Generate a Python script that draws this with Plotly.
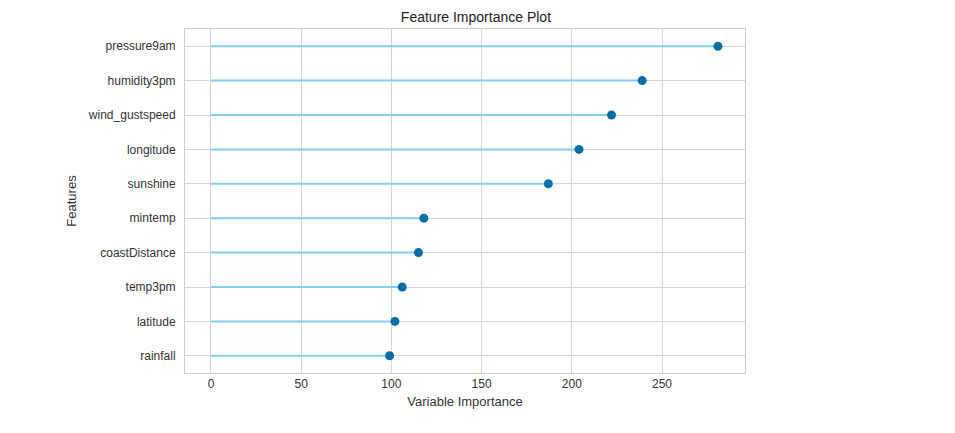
import plotly.graph_objects as go

features = ["rainfall", "latitude", "temp3pm", "coastDistance", "mintemp",
            "sunshine", "longitude", "wind_gustspeed", "humidity3pm", "pressure9am"]
importance = [99, 102, 106, 115, 118, 187, 204, 222, 239, 281]

fig = go.Figure()
for f, v in zip(features, importance):
    fig.add_trace(go.Scatter(x=[0, v], y=[f, f], mode="lines",
                             line=dict(color="#87ceeb", width=2), showlegend=False, hoverinfo="skip"))
fig.add_trace(go.Scatter(x=importance, y=features, mode="markers",
                         marker=dict(color="#0a6ea6", size=9), showlegend=False))

axis_common = dict(showgrid=True, gridcolor="#d5d5d5", gridwidth=1, zeroline=False,
                   showline=True, linecolor="#cccccc", mirror=True, ticks="",
                   tickfont=dict(size=12, color="#333"))
fig.update_layout(
    width=955, height=433, plot_bgcolor="white", paper_bgcolor="white",
    margin=dict(l=177, r=218, t=21, b=68),
    font=dict(family="Liberation Sans, Arial, sans-serif", color="#333"),
    title=dict(text="Feature Importance Plot", x=0.49, xanchor="center", y=0.99, yanchor="top",
               font=dict(size=14, color="#222")),
    xaxis=dict(range=[-14.4, 296], tickvals=[0, 50, 100, 150, 200, 250],
               title=dict(text="Variable Importance", font=dict(size=13), standoff=6), **axis_common),
    yaxis=dict(range=[-0.5, 9.5], title=dict(text="Features", font=dict(size=13), standoff=8),
               ticklabelstandoff=6, **axis_common),
)
fig.write_html("out.html")
